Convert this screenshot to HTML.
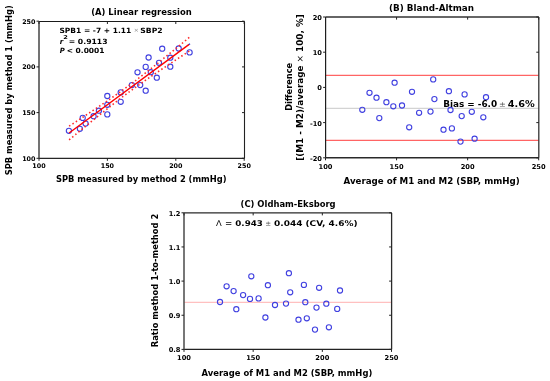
<!DOCTYPE html>
<html><head><meta charset="utf-8"><title>Method comparison plots</title>
<style>html,body{margin:0;padding:0;background:#fff;}svg{display:block;}</style></head>
<body>
<svg width="550" height="381" viewBox="0 0 550 381">
<rect width="550" height="381" fill="#fff"/>
<g font-family='"DejaVu Sans", "Liberation Sans", sans-serif'>
<circle cx="68.90" cy="130.80" r="2.6" fill="none" stroke="#4040e0" stroke-width="1.1"/>
<circle cx="79.90" cy="128.80" r="2.6" fill="none" stroke="#4040e0" stroke-width="1.1"/>
<circle cx="82.70" cy="117.90" r="2.6" fill="none" stroke="#4040e0" stroke-width="1.1"/>
<circle cx="85.60" cy="123.60" r="2.6" fill="none" stroke="#4040e0" stroke-width="1.1"/>
<circle cx="93.60" cy="116.20" r="2.6" fill="none" stroke="#4040e0" stroke-width="1.1"/>
<circle cx="98.90" cy="110.70" r="2.6" fill="none" stroke="#4040e0" stroke-width="1.1"/>
<circle cx="107.30" cy="96.00" r="2.6" fill="none" stroke="#4040e0" stroke-width="1.1"/>
<circle cx="107.30" cy="104.80" r="2.6" fill="none" stroke="#4040e0" stroke-width="1.1"/>
<circle cx="107.30" cy="114.40" r="2.6" fill="none" stroke="#4040e0" stroke-width="1.1"/>
<circle cx="120.70" cy="101.80" r="2.6" fill="none" stroke="#4040e0" stroke-width="1.1"/>
<circle cx="120.70" cy="92.40" r="2.6" fill="none" stroke="#4040e0" stroke-width="1.1"/>
<circle cx="131.90" cy="85.10" r="2.6" fill="none" stroke="#4040e0" stroke-width="1.1"/>
<circle cx="140.20" cy="85.10" r="2.6" fill="none" stroke="#4040e0" stroke-width="1.1"/>
<circle cx="145.70" cy="90.70" r="2.6" fill="none" stroke="#4040e0" stroke-width="1.1"/>
<circle cx="137.50" cy="72.30" r="2.6" fill="none" stroke="#4040e0" stroke-width="1.1"/>
<circle cx="145.70" cy="66.90" r="2.6" fill="none" stroke="#4040e0" stroke-width="1.1"/>
<circle cx="150.80" cy="72.20" r="2.6" fill="none" stroke="#4040e0" stroke-width="1.1"/>
<circle cx="156.80" cy="77.70" r="2.6" fill="none" stroke="#4040e0" stroke-width="1.1"/>
<circle cx="148.60" cy="57.50" r="2.6" fill="none" stroke="#4040e0" stroke-width="1.1"/>
<circle cx="159.00" cy="62.80" r="2.6" fill="none" stroke="#4040e0" stroke-width="1.1"/>
<circle cx="162.20" cy="48.70" r="2.6" fill="none" stroke="#4040e0" stroke-width="1.1"/>
<circle cx="170.30" cy="57.70" r="2.6" fill="none" stroke="#4040e0" stroke-width="1.1"/>
<circle cx="170.30" cy="66.70" r="2.6" fill="none" stroke="#4040e0" stroke-width="1.1"/>
<circle cx="178.70" cy="48.50" r="2.6" fill="none" stroke="#4040e0" stroke-width="1.1"/>
<circle cx="189.60" cy="52.40" r="2.6" fill="none" stroke="#4040e0" stroke-width="1.1"/>
<polyline points="69.10,126.19 71.10,124.88 73.11,123.57 75.11,122.26 77.12,120.95 79.12,119.64 81.13,118.32 83.13,117.01 85.14,115.69 87.14,114.37 89.15,113.04 91.16,111.71 93.16,110.38 95.16,109.04 97.17,107.71 99.17,106.36 101.18,105.01 103.19,103.66 105.19,102.30 107.19,100.93 109.20,99.56 111.20,98.17 113.21,96.78 115.22,95.38 117.22,93.98 119.22,92.56 121.23,91.13 123.23,89.69 125.24,88.24 127.25,86.77 129.25,85.30 131.25,83.81 133.26,82.31 135.26,80.80 137.27,79.28 139.27,77.74 141.28,76.20 143.28,74.65 145.29,73.08 147.30,71.51 149.30,69.93 151.31,68.34 153.31,66.75 155.31,65.15 157.32,63.54 159.32,61.93 161.33,60.31 163.33,58.69 165.34,57.06 167.35,55.43 169.35,53.80 171.36,52.17 173.36,50.53 175.37,48.89 177.37,47.24 179.38,45.60 181.38,43.95 183.38,42.30 185.39,40.65 187.40,39.00 189.40,37.34" fill="none" stroke="#ff2a2a" stroke-width="1.6" stroke-dasharray="1.5 2.5"/>
<polyline points="69.10,139.81 71.10,138.16 73.11,136.51 75.11,134.86 77.12,133.21 79.12,131.56 81.13,129.92 83.13,128.27 85.14,126.63 87.14,124.99 89.15,123.36 91.16,121.73 93.16,120.10 95.16,118.48 97.17,116.85 99.17,115.24 101.18,113.63 103.19,112.02 105.19,110.42 107.19,108.83 109.20,107.24 111.20,105.67 113.21,104.10 115.22,102.54 117.22,100.98 119.22,99.44 121.23,97.91 123.23,96.39 125.24,94.88 127.25,93.39 129.25,91.90 131.25,90.43 133.26,88.97 135.26,87.52 137.27,86.08 139.27,84.66 141.28,83.24 143.28,81.83 145.29,80.44 147.30,79.05 149.30,77.67 151.31,76.30 153.31,74.93 155.31,73.57 157.32,72.22 159.32,70.87 161.33,69.53 163.33,68.19 165.34,66.86 167.35,65.53 169.35,64.20 171.36,62.87 173.36,61.55 175.37,60.23 177.37,58.92 179.38,57.60 181.38,56.29 183.38,54.98 185.39,53.67 187.40,52.36 189.40,51.06" fill="none" stroke="#ff2a2a" stroke-width="1.6" stroke-dasharray="1.5 2.5"/>
<line x1="188.30" y1="44.95" x2="190.00" y2="43.70" stroke="#3030d0" stroke-width="1.4"/>
<line x1="69.10" y1="133.00" x2="188.80" y2="44.65" stroke="#ff0000" stroke-width="1.4"/>
<line x1="39.00" y1="21.50" x2="244.50" y2="21.50" stroke="#1a1a1a" stroke-width="1.1"/>
<line x1="244.50" y1="21.50" x2="244.50" y2="158.30" stroke="#222" stroke-width="1.1"/>
<line x1="39.00" y1="158.30" x2="244.50" y2="158.30" stroke="#262626" stroke-width="1.3"/>
<line x1="39.00" y1="21.50" x2="39.00" y2="158.30" stroke="#454545" stroke-width="1.5"/>
<line x1="39.00" y1="158.30" x2="39.00" y2="160.80" stroke="#222" stroke-width="1"/>
<line x1="39.00" y1="21.50" x2="39.00" y2="24.00" stroke="#222" stroke-width="1"/>
<line x1="107.40" y1="158.30" x2="107.40" y2="160.80" stroke="#222" stroke-width="1"/>
<line x1="107.40" y1="21.50" x2="107.40" y2="24.00" stroke="#222" stroke-width="1"/>
<line x1="175.80" y1="158.30" x2="175.80" y2="160.80" stroke="#222" stroke-width="1"/>
<line x1="175.80" y1="21.50" x2="175.80" y2="24.00" stroke="#222" stroke-width="1"/>
<line x1="244.20" y1="158.30" x2="244.20" y2="160.80" stroke="#222" stroke-width="1"/>
<line x1="244.20" y1="21.50" x2="244.20" y2="24.00" stroke="#222" stroke-width="1"/>
<line x1="36.50" y1="158.30" x2="39.00" y2="158.30" stroke="#222" stroke-width="1"/>
<line x1="242.00" y1="158.30" x2="244.50" y2="158.30" stroke="#222" stroke-width="1"/>
<line x1="36.50" y1="112.60" x2="39.00" y2="112.60" stroke="#222" stroke-width="1"/>
<line x1="242.00" y1="112.60" x2="244.50" y2="112.60" stroke="#222" stroke-width="1"/>
<line x1="36.50" y1="66.90" x2="39.00" y2="66.90" stroke="#222" stroke-width="1"/>
<line x1="242.00" y1="66.90" x2="244.50" y2="66.90" stroke="#222" stroke-width="1"/>
<line x1="36.50" y1="21.20" x2="39.00" y2="21.20" stroke="#222" stroke-width="1"/>
<line x1="242.00" y1="21.20" x2="244.50" y2="21.20" stroke="#222" stroke-width="1"/>
<text x="39.00" y="167.90" font-size="6.4" text-anchor="middle" font-weight="bold" fill="#000">100</text>
<text x="107.40" y="167.90" font-size="6.4" text-anchor="middle" font-weight="bold" fill="#000">150</text>
<text x="175.80" y="167.90" font-size="6.4" text-anchor="middle" font-weight="bold" fill="#000">200</text>
<text x="244.20" y="167.90" font-size="6.4" text-anchor="middle" font-weight="bold" fill="#000">250</text>
<text x="35.50" y="160.70" font-size="6.4" text-anchor="end" font-weight="bold" fill="#000">100</text>
<text x="35.50" y="115.00" font-size="6.4" text-anchor="end" font-weight="bold" fill="#000">150</text>
<text x="35.50" y="69.30" font-size="6.4" text-anchor="end" font-weight="bold" fill="#000">200</text>
<text x="35.50" y="23.60" font-size="6.4" text-anchor="end" font-weight="bold" fill="#000">250</text>
<text x="91.20" y="14.90" font-size="8.4" text-anchor="start" font-weight="bold" fill="#000" textLength="100.50" lengthAdjust="spacingAndGlyphs">(A) Linear regression</text>
<text x="56.00" y="182.10" font-size="8.3" text-anchor="start" font-weight="bold" fill="#000" textLength="170.50" lengthAdjust="spacingAndGlyphs">SPB measured by method 2 (mmHg)</text>
<text x="12.00" y="175.30" font-size="8.3" text-anchor="start" font-weight="bold" fill="#000" textLength="170.00" lengthAdjust="spacingAndGlyphs" transform="rotate(-90 12.00 175.30)">SPB measured by method 1 (mmHg)</text>
<text x="59.46" y="32.90" font-size="7.2" font-weight="bold" fill="#000" textLength="71.75" lengthAdjust="spacingAndGlyphs">SPB1 = -7 + 1.11</text>
<text x="133.67" y="32.20" font-size="5.6" font-weight="normal" fill="#808080" textLength="5.06" lengthAdjust="spacingAndGlyphs">×</text>
<text x="140.34" y="32.90" font-size="7.2" font-weight="bold" fill="#000" textLength="22.32" lengthAdjust="spacingAndGlyphs">SBP2</text>
<text x="59.79" y="43.90" font-size="7.2" font-weight="bold" font-style="italic" fill="#000" textLength="3.45" lengthAdjust="spacingAndGlyphs">r</text>
<text x="63.37" y="39.30" font-size="5.3" font-weight="bold" fill="#000" textLength="4.60" lengthAdjust="spacingAndGlyphs">2</text>
<text x="68.69" y="43.90" font-size="7.2" font-weight="bold" fill="#000" textLength="38.91" lengthAdjust="spacingAndGlyphs">= 0.9113</text>
<text x="59.86" y="52.70" font-size="7.2" font-weight="bold" font-style="italic" fill="#000" textLength="5.03" lengthAdjust="spacingAndGlyphs">P</text>
<text x="66.71" y="52.70" font-size="7.2" font-weight="bold" fill="#000" textLength="37.79" lengthAdjust="spacingAndGlyphs">&lt; 0.0001</text>
<line x1="325.50" y1="108.30" x2="538.70" y2="108.30" stroke="#c8c8c8" stroke-width="1"/>
<line x1="325.50" y1="75.40" x2="538.70" y2="75.40" stroke="#ff6464" stroke-width="1.2"/>
<line x1="325.50" y1="140.40" x2="538.70" y2="140.40" stroke="#ff6464" stroke-width="1.2"/>
<circle cx="362.30" cy="109.80" r="2.6" fill="none" stroke="#4040e0" stroke-width="1.1"/>
<circle cx="369.50" cy="92.80" r="2.6" fill="none" stroke="#4040e0" stroke-width="1.1"/>
<circle cx="376.50" cy="97.70" r="2.6" fill="none" stroke="#4040e0" stroke-width="1.1"/>
<circle cx="379.30" cy="118.10" r="2.6" fill="none" stroke="#4040e0" stroke-width="1.1"/>
<circle cx="386.40" cy="102.20" r="2.6" fill="none" stroke="#4040e0" stroke-width="1.1"/>
<circle cx="393.30" cy="106.30" r="2.6" fill="none" stroke="#4040e0" stroke-width="1.1"/>
<circle cx="394.60" cy="82.70" r="2.6" fill="none" stroke="#4040e0" stroke-width="1.1"/>
<circle cx="402.00" cy="105.50" r="2.6" fill="none" stroke="#4040e0" stroke-width="1.1"/>
<circle cx="409.20" cy="127.30" r="2.6" fill="none" stroke="#4040e0" stroke-width="1.1"/>
<circle cx="412.00" cy="91.80" r="2.6" fill="none" stroke="#4040e0" stroke-width="1.1"/>
<circle cx="419.10" cy="112.80" r="2.6" fill="none" stroke="#4040e0" stroke-width="1.1"/>
<circle cx="430.50" cy="111.60" r="2.6" fill="none" stroke="#4040e0" stroke-width="1.1"/>
<circle cx="433.20" cy="79.40" r="2.6" fill="none" stroke="#4040e0" stroke-width="1.1"/>
<circle cx="434.40" cy="99.10" r="2.6" fill="none" stroke="#4040e0" stroke-width="1.1"/>
<circle cx="443.50" cy="129.70" r="2.6" fill="none" stroke="#4040e0" stroke-width="1.1"/>
<circle cx="448.90" cy="91.20" r="2.6" fill="none" stroke="#4040e0" stroke-width="1.1"/>
<circle cx="450.50" cy="110.00" r="2.6" fill="none" stroke="#4040e0" stroke-width="1.1"/>
<circle cx="451.90" cy="128.40" r="2.6" fill="none" stroke="#4040e0" stroke-width="1.1"/>
<circle cx="460.50" cy="141.60" r="2.6" fill="none" stroke="#4040e0" stroke-width="1.1"/>
<circle cx="461.70" cy="116.10" r="2.6" fill="none" stroke="#4040e0" stroke-width="1.1"/>
<circle cx="464.60" cy="94.40" r="2.6" fill="none" stroke="#4040e0" stroke-width="1.1"/>
<circle cx="471.80" cy="111.80" r="2.6" fill="none" stroke="#4040e0" stroke-width="1.1"/>
<circle cx="474.60" cy="138.70" r="2.6" fill="none" stroke="#4040e0" stroke-width="1.1"/>
<circle cx="483.30" cy="117.30" r="2.6" fill="none" stroke="#4040e0" stroke-width="1.1"/>
<circle cx="486.00" cy="97.20" r="2.6" fill="none" stroke="#4040e0" stroke-width="1.1"/>
<line x1="325.60" y1="17.10" x2="538.80" y2="17.10" stroke="#333" stroke-width="1.5"/>
<line x1="538.80" y1="17.10" x2="538.80" y2="157.80" stroke="#333" stroke-width="1.3"/>
<line x1="325.60" y1="157.80" x2="538.80" y2="157.80" stroke="#2a2a2a" stroke-width="1.4"/>
<line x1="325.60" y1="17.10" x2="325.60" y2="157.80" stroke="#1e1e1e" stroke-width="1.2"/>
<line x1="325.50" y1="157.80" x2="325.50" y2="160.30" stroke="#222" stroke-width="1"/>
<line x1="325.50" y1="17.10" x2="325.50" y2="19.60" stroke="#222" stroke-width="1"/>
<line x1="396.57" y1="157.80" x2="396.57" y2="160.30" stroke="#222" stroke-width="1"/>
<line x1="396.57" y1="17.10" x2="396.57" y2="19.60" stroke="#222" stroke-width="1"/>
<line x1="467.63" y1="157.80" x2="467.63" y2="160.30" stroke="#222" stroke-width="1"/>
<line x1="467.63" y1="17.10" x2="467.63" y2="19.60" stroke="#222" stroke-width="1"/>
<line x1="538.70" y1="157.80" x2="538.70" y2="160.30" stroke="#222" stroke-width="1"/>
<line x1="538.70" y1="17.10" x2="538.70" y2="19.60" stroke="#222" stroke-width="1"/>
<line x1="323.10" y1="17.00" x2="325.60" y2="17.00" stroke="#222" stroke-width="1"/>
<line x1="536.30" y1="17.00" x2="538.80" y2="17.00" stroke="#222" stroke-width="1"/>
<line x1="323.10" y1="52.20" x2="325.60" y2="52.20" stroke="#222" stroke-width="1"/>
<line x1="536.30" y1="52.20" x2="538.80" y2="52.20" stroke="#222" stroke-width="1"/>
<line x1="323.10" y1="87.40" x2="325.60" y2="87.40" stroke="#222" stroke-width="1"/>
<line x1="323.10" y1="122.60" x2="325.60" y2="122.60" stroke="#222" stroke-width="1"/>
<line x1="536.30" y1="122.60" x2="538.80" y2="122.60" stroke="#222" stroke-width="1"/>
<line x1="323.10" y1="157.80" x2="325.60" y2="157.80" stroke="#222" stroke-width="1"/>
<line x1="536.30" y1="157.80" x2="538.80" y2="157.80" stroke="#222" stroke-width="1"/>
<text x="325.50" y="168.90" font-size="6.7" text-anchor="middle" font-weight="bold" fill="#000">100</text>
<text x="396.57" y="168.90" font-size="6.7" text-anchor="middle" font-weight="bold" fill="#000">150</text>
<text x="467.63" y="168.90" font-size="6.7" text-anchor="middle" font-weight="bold" fill="#000">200</text>
<text x="538.70" y="168.90" font-size="6.7" text-anchor="middle" font-weight="bold" fill="#000">250</text>
<text x="322.00" y="19.90" font-size="6.7" text-anchor="end" font-weight="bold" fill="#000">20</text>
<text x="322.00" y="55.10" font-size="6.7" text-anchor="end" font-weight="bold" fill="#000">10</text>
<text x="322.00" y="90.30" font-size="6.7" text-anchor="end" font-weight="bold" fill="#000">0</text>
<text x="322.00" y="125.50" font-size="6.7" text-anchor="end" font-weight="bold" fill="#000">-10</text>
<text x="322.00" y="160.70" font-size="6.7" text-anchor="end" font-weight="bold" fill="#000">-20</text>
<text x="389.00" y="10.90" font-size="8.7" text-anchor="start" font-weight="bold" fill="#000" textLength="85.00" lengthAdjust="spacingAndGlyphs">(B) Bland-Altman</text>
<text x="343.50" y="184.00" font-size="8.6" text-anchor="start" font-weight="bold" fill="#000" textLength="176.20" lengthAdjust="spacingAndGlyphs">Average of M1 and M2 (SBP, mmHg)</text>
<text x="291.60" y="110.80" font-size="8.2" text-anchor="start" font-weight="bold" fill="#000" textLength="48.00" lengthAdjust="spacingAndGlyphs" transform="rotate(-90 291.60 110.80)">Difference</text>
<text x="303.0" y="160.8" font-size="8.6" font-weight="bold" textLength="146.6" lengthAdjust="spacingAndGlyphs" transform="rotate(-90 303.0 160.8)">[(M1 - M2)/average <tspan font-weight="normal">×</tspan> 100, %]</text>
<text x="443.18" y="106.60" font-size="8.1" font-weight="bold" fill="#000" textLength="53.95" lengthAdjust="spacingAndGlyphs">Bias = -6.0</text>
<text x="499.05" y="106.60" font-size="7.4" font-weight="normal" fill="#555" textLength="6.81" lengthAdjust="spacingAndGlyphs">±</text>
<text x="507.76" y="106.60" font-size="8.1" font-weight="bold" fill="#000" textLength="26.94" lengthAdjust="spacingAndGlyphs">4.6%</text>
<line x1="184.00" y1="302.40" x2="391.50" y2="302.40" stroke="#ffc0c0" stroke-width="1.1"/>
<circle cx="220.00" cy="302.00" r="2.6" fill="none" stroke="#4040e0" stroke-width="1.1"/>
<circle cx="226.60" cy="286.30" r="2.6" fill="none" stroke="#4040e0" stroke-width="1.1"/>
<circle cx="233.60" cy="291.10" r="2.6" fill="none" stroke="#4040e0" stroke-width="1.1"/>
<circle cx="236.30" cy="309.20" r="2.6" fill="none" stroke="#4040e0" stroke-width="1.1"/>
<circle cx="243.10" cy="295.10" r="2.6" fill="none" stroke="#4040e0" stroke-width="1.1"/>
<circle cx="251.30" cy="276.30" r="2.6" fill="none" stroke="#4040e0" stroke-width="1.1"/>
<circle cx="250.00" cy="298.90" r="2.6" fill="none" stroke="#4040e0" stroke-width="1.1"/>
<circle cx="258.60" cy="298.40" r="2.6" fill="none" stroke="#4040e0" stroke-width="1.1"/>
<circle cx="265.40" cy="317.50" r="2.6" fill="none" stroke="#4040e0" stroke-width="1.1"/>
<circle cx="267.90" cy="285.20" r="2.6" fill="none" stroke="#4040e0" stroke-width="1.1"/>
<circle cx="275.00" cy="305.00" r="2.6" fill="none" stroke="#4040e0" stroke-width="1.1"/>
<circle cx="286.00" cy="303.60" r="2.6" fill="none" stroke="#4040e0" stroke-width="1.1"/>
<circle cx="288.90" cy="273.20" r="2.6" fill="none" stroke="#4040e0" stroke-width="1.1"/>
<circle cx="290.20" cy="292.30" r="2.6" fill="none" stroke="#4040e0" stroke-width="1.1"/>
<circle cx="298.50" cy="319.70" r="2.6" fill="none" stroke="#4040e0" stroke-width="1.1"/>
<circle cx="303.90" cy="284.90" r="2.6" fill="none" stroke="#4040e0" stroke-width="1.1"/>
<circle cx="305.30" cy="302.20" r="2.6" fill="none" stroke="#4040e0" stroke-width="1.1"/>
<circle cx="306.80" cy="318.30" r="2.6" fill="none" stroke="#4040e0" stroke-width="1.1"/>
<circle cx="315.00" cy="329.60" r="2.6" fill="none" stroke="#4040e0" stroke-width="1.1"/>
<circle cx="316.50" cy="307.60" r="2.6" fill="none" stroke="#4040e0" stroke-width="1.1"/>
<circle cx="319.10" cy="287.80" r="2.6" fill="none" stroke="#4040e0" stroke-width="1.1"/>
<circle cx="326.30" cy="303.70" r="2.6" fill="none" stroke="#4040e0" stroke-width="1.1"/>
<circle cx="328.90" cy="327.30" r="2.6" fill="none" stroke="#4040e0" stroke-width="1.1"/>
<circle cx="337.20" cy="308.90" r="2.6" fill="none" stroke="#4040e0" stroke-width="1.1"/>
<circle cx="340.00" cy="290.50" r="2.6" fill="none" stroke="#4040e0" stroke-width="1.1"/>
<line x1="184.00" y1="212.90" x2="391.60" y2="212.90" stroke="#2a2a2a" stroke-width="1.3"/>
<line x1="391.60" y1="212.90" x2="391.60" y2="349.40" stroke="#2a2a2a" stroke-width="1.3"/>
<line x1="184.00" y1="349.40" x2="391.60" y2="349.40" stroke="#222" stroke-width="1.3"/>
<line x1="184.00" y1="212.90" x2="184.00" y2="349.40" stroke="#555" stroke-width="1.6"/>
<line x1="184.00" y1="349.40" x2="184.00" y2="351.90" stroke="#222" stroke-width="1"/>
<line x1="184.00" y1="212.90" x2="184.00" y2="215.40" stroke="#222" stroke-width="1"/>
<line x1="253.17" y1="349.40" x2="253.17" y2="351.90" stroke="#222" stroke-width="1"/>
<line x1="253.17" y1="212.90" x2="253.17" y2="215.40" stroke="#222" stroke-width="1"/>
<line x1="322.33" y1="349.40" x2="322.33" y2="351.90" stroke="#222" stroke-width="1"/>
<line x1="322.33" y1="212.90" x2="322.33" y2="215.40" stroke="#222" stroke-width="1"/>
<line x1="391.50" y1="349.40" x2="391.50" y2="351.90" stroke="#222" stroke-width="1"/>
<line x1="391.50" y1="212.90" x2="391.50" y2="215.40" stroke="#222" stroke-width="1"/>
<line x1="181.50" y1="212.80" x2="184.00" y2="212.80" stroke="#222" stroke-width="1"/>
<line x1="389.10" y1="212.80" x2="391.60" y2="212.80" stroke="#222" stroke-width="1"/>
<line x1="181.50" y1="246.95" x2="184.00" y2="246.95" stroke="#222" stroke-width="1"/>
<line x1="389.10" y1="246.95" x2="391.60" y2="246.95" stroke="#222" stroke-width="1"/>
<line x1="181.50" y1="281.10" x2="184.00" y2="281.10" stroke="#222" stroke-width="1"/>
<line x1="389.10" y1="281.10" x2="391.60" y2="281.10" stroke="#222" stroke-width="1"/>
<line x1="181.50" y1="315.25" x2="184.00" y2="315.25" stroke="#222" stroke-width="1"/>
<line x1="389.10" y1="315.25" x2="391.60" y2="315.25" stroke="#222" stroke-width="1"/>
<line x1="181.50" y1="349.40" x2="184.00" y2="349.40" stroke="#222" stroke-width="1"/>
<line x1="389.10" y1="349.40" x2="391.60" y2="349.40" stroke="#222" stroke-width="1"/>
<text x="184.00" y="359.70" font-size="6.7" text-anchor="middle" font-weight="bold" fill="#000">100</text>
<text x="253.17" y="359.70" font-size="6.7" text-anchor="middle" font-weight="bold" fill="#000">150</text>
<text x="322.33" y="359.70" font-size="6.7" text-anchor="middle" font-weight="bold" fill="#000">200</text>
<text x="391.50" y="359.70" font-size="6.7" text-anchor="middle" font-weight="bold" fill="#000">250</text>
<text x="180.50" y="215.50" font-size="6.7" text-anchor="end" font-weight="bold" fill="#000">1.2</text>
<text x="180.50" y="249.65" font-size="6.7" text-anchor="end" font-weight="bold" fill="#000">1.1</text>
<text x="180.50" y="283.80" font-size="6.7" text-anchor="end" font-weight="bold" fill="#000">1.0</text>
<text x="180.50" y="317.95" font-size="6.7" text-anchor="end" font-weight="bold" fill="#000">0.9</text>
<text x="180.50" y="352.10" font-size="6.7" text-anchor="end" font-weight="bold" fill="#000">0.8</text>
<text x="240.60" y="207.00" font-size="8.4" text-anchor="start" font-weight="bold" fill="#000" textLength="95.00" lengthAdjust="spacingAndGlyphs">(C) Oldham-Eksborg</text>
<text x="201.50" y="375.90" font-size="8.4" text-anchor="start" font-weight="bold" fill="#000" textLength="170.80" lengthAdjust="spacingAndGlyphs">Average of M1 and M2 (SBP, mmHg)</text>
<text x="158.00" y="347.20" font-size="8.3" text-anchor="start" font-weight="bold" fill="#000" textLength="133.40" lengthAdjust="spacingAndGlyphs" transform="rotate(-90 158.00 347.20)">Ratio method 1-to-method 2</text>
<text x="216.14" y="225.50" font-size="7.9" font-weight="normal" fill="#000" textLength="5.74" lengthAdjust="spacingAndGlyphs">Λ</text>
<text x="224.99" y="225.50" font-size="7.9" font-weight="bold" fill="#000" textLength="37.80" lengthAdjust="spacingAndGlyphs">= 0.943</text>
<text x="265.16" y="225.50" font-size="7.2" font-weight="normal" fill="#555" textLength="5.88" lengthAdjust="spacingAndGlyphs">±</text>
<text x="273.97" y="225.50" font-size="7.9" font-weight="bold" fill="#000" textLength="83.58" lengthAdjust="spacingAndGlyphs">0.044 (CV, 4.6%)</text>
</g></svg>
</body></html>
